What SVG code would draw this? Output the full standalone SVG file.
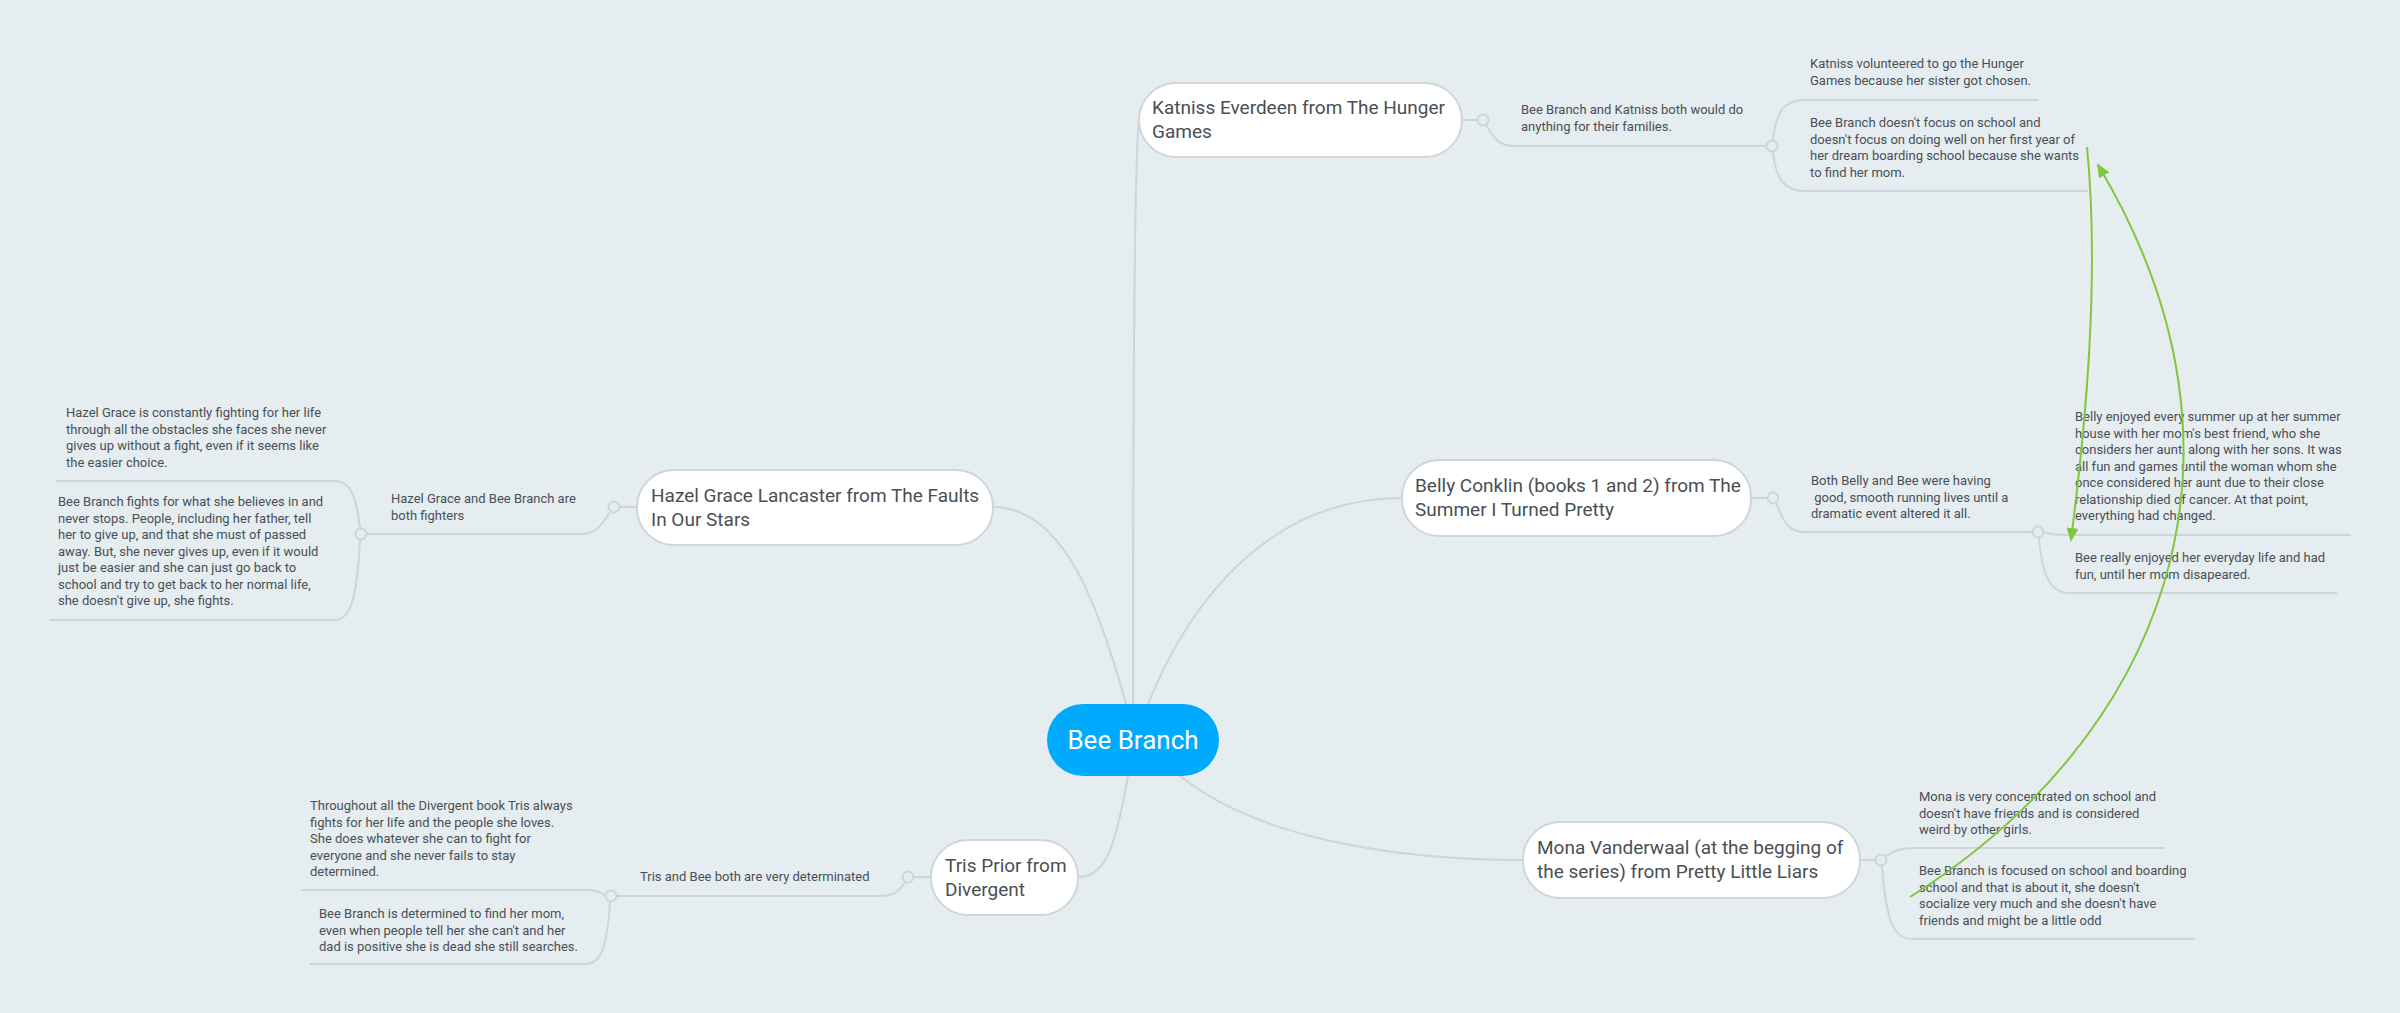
<svg xmlns="http://www.w3.org/2000/svg" width="2400" height="1013" viewBox="0 0 2400 1013">
<style>
.bg{fill:#e5edf1}
.node rect{fill:#ffffff;stroke:#cfd6db;stroke-width:2}
.nt{font-family:Roboto,"Liberation Sans",sans-serif;font-size:19px;fill:#4a4f55}
.dt{font-family:Roboto,"Liberation Sans",sans-serif;font-size:13px;fill:#4a4f55}
.root rect{fill:#00aafd}
.rt{font-family:Roboto,"Liberation Sans",sans-serif;font-size:26px;fill:#ffffff}
.conn path{fill:none;stroke:#cdd5da;stroke-width:2}
.conn circle{fill:#e5edf1;stroke:#cdd5da;stroke-width:2}
.rel path{fill:none;stroke:#82c63f;stroke-width:2}
</style>
<defs>
<marker id="ah" markerUnits="userSpaceOnUse" markerWidth="14" markerHeight="12" viewBox="0 0 14 12" refX="12" refY="6" orient="auto">
<path d="M0,0 L14,6 L0,12 z" fill="#82c63f"/>
</marker>
</defs>
<rect class="bg" x="0" y="0" width="2400" height="1013"/>

<g id="connectors" class="conn">
<!-- root to main topics -->
<path d="M1133,704 C1133,420 1134,160 1139,120"/>
<path d="M1126,704 C1100,610 1065,507 993,507"/>
<path d="M1148,704 C1190,600 1270,498 1402,498"/>
<path d="M1180,776 C1260,840 1400,860 1523,860"/>
<path d="M1128,776 C1115,850 1105,877 1078,877"/>
<!-- Katniss -->
<path d="M1462,120 L1477,120"/>
<path d="M1486,125 C1495,140 1500,146 1515,146 L1766,146"/>
<path d="M1773,140 C1776,110 1785,100 1805,100 L2039,100"/>
<path d="M1773,152 C1776,180 1785,191 1805,191 L2088,191"/>
<circle cx="1483" cy="120" r="5.5"/>
<circle cx="1772" cy="146" r="5.5"/>
<!-- Hazel -->
<path d="M637,507 L620,507"/>
<path d="M610,512 C600,528 595,534 580,534 L367,534"/>
<path d="M360,528 C356,495 350,481 335,481 L56,481"/>
<path d="M360,540 C357,600 350,620 335,620 L49,620"/>
<circle cx="614" cy="507" r="5.5"/>
<circle cx="361" cy="534" r="5.5"/>
<!-- Belly -->
<path d="M1751,498 L1767,498"/>
<path d="M1776,503 C1785,525 1790,532 1805,532 L2032,532"/>
<path d="M2044,532 C2050,534 2055,535 2065,535 L2351,535"/>
<path d="M2039,538 C2042,575 2050,593 2070,593 L2337,593"/>
<circle cx="1773" cy="498" r="5.5"/>
<circle cx="2038" cy="532" r="5.5"/>
<!-- Mona -->
<path d="M1860,860 L1875,860"/>
<path d="M1886,856 C1895,850 1902,848 1915,848 L2165,848"/>
<path d="M1882,866 C1886,920 1893,939 1912,939 L2195,939"/>
<circle cx="1881" cy="860" r="5.5"/>
<!-- Tris -->
<path d="M931,877 L914,877"/>
<path d="M905,882 C898,893 893,896 880,896 L617,896"/>
<path d="M605,895 C600,891 595,890 585,890 L301,890"/>
<path d="M610,902 C607,950 600,964 585,964 L309,964"/>
<circle cx="908" cy="877" r="5.5"/>
<circle cx="611" cy="896" r="5.5"/>
</g>

<g id="root" class="root">
<rect x="1047" y="704" width="172" height="72" rx="36"/>
<text class="rt" x="1133" y="749" text-anchor="middle">Bee Branch</text>
</g>

<g id="katniss" class="node">
<rect x="1139" y="83" width="323" height="74" rx="37"/>
<text class="nt" x="1152" y="114">Katniss Everdeen from The Hunger<tspan x="1152" y="138">Games</tspan></text>
</g>
<g id="katniss-label">
<text class="dt" x="1521" y="114">Bee Branch and Katniss both would do<tspan x="1521" y="131">anything for their families.</tspan></text>
</g>
<g id="katniss-d1">
<text class="dt" x="1810" y="68">Katniss volunteered to go the Hunger<tspan x="1810" y="85">Games because her sister got chosen.</tspan></text>
</g>
<g id="katniss-d2">
<text class="dt" x="1810" y="127">Bee Branch doesn't focus on school and<tspan x="1810" y="143.5">doesn't focus on doing well on her first year of</tspan><tspan x="1810" y="160">her dream boarding school because she wants</tspan><tspan x="1810" y="176.5">to find her mom.</tspan></text>
</g>

<g id="hazel" class="node">
<rect x="637" y="470" width="356" height="75" rx="37"/>
<text class="nt" x="651" y="502">Hazel Grace Lancaster from The Faults<tspan x="651" y="526">In Our Stars</tspan></text>
</g>
<g id="hazel-label">
<text class="dt" x="391" y="503">Hazel Grace and Bee Branch are<tspan x="391" y="519.5">both fighters</tspan></text>
</g>
<g id="hazel-d1">
<text class="dt" x="66" y="417">Hazel Grace is constantly fighting for her life<tspan x="66" y="433.5">through all the obstacles she faces she never</tspan><tspan x="66" y="450">gives up without a fight, even if it seems like</tspan><tspan x="66" y="466.5">the easier choice.</tspan></text>
</g>
<g id="hazel-d2">
<text class="dt" x="58" y="506">Bee Branch fights for what she believes in and<tspan x="58" y="522.5">never stops. People, including her father, tell</tspan><tspan x="58" y="539">her to give up, and that she must of passed</tspan><tspan x="58" y="555.5">away. But, she never gives up, even if it would</tspan><tspan x="58" y="572">just be easier and she can just go back to</tspan><tspan x="58" y="588.5">school and try to get back to her normal life,</tspan><tspan x="58" y="605">she doesn't give up, she fights.</tspan></text>
</g>

<g id="belly" class="node">
<rect x="1402" y="460" width="349" height="76" rx="37"/>
<text class="nt" x="1415" y="492">Belly Conklin (books 1 and 2) from The<tspan x="1415" y="516">Summer I Turned Pretty</tspan></text>
</g>
<g id="belly-label">
<text class="dt" x="1811" y="485" xml:space="preserve">Both Belly and Bee were having<tspan x="1811" y="501.5"> good, smooth running lives until a</tspan><tspan x="1811" y="518">dramatic event altered it all.</tspan></text>
</g>
<g id="belly-d1">
<text class="dt" x="2075" y="421">Belly enjoyed every summer up at her summer<tspan x="2075" y="437.5">house with her mom's best friend, who she</tspan><tspan x="2075" y="454">considers her aunt, along with her sons. It was</tspan><tspan x="2075" y="470.5">all fun and games until the woman whom she</tspan><tspan x="2075" y="487">once considered her aunt due to their close</tspan><tspan x="2075" y="503.5">relationship died of cancer. At that point,</tspan><tspan x="2075" y="520">everything had changed.</tspan></text>
</g>
<g id="belly-d2">
<text class="dt" x="2075" y="562">Bee really enjoyed her everyday life and had<tspan x="2075" y="578.5">fun, until her mom disapeared.</tspan></text>
</g>

<g id="mona" class="node">
<rect x="1523" y="822" width="337" height="76" rx="37"/>
<text class="nt" x="1537" y="854">Mona Vanderwaal (at the begging of<tspan x="1537" y="878">the series) from Pretty Little Liars</tspan></text>
</g>
<g id="mona-d1">
<text class="dt" x="1919" y="801">Mona is very concentrated on school and<tspan x="1919" y="817.5">doesn't have friends and is considered</tspan><tspan x="1919" y="834">weird by other girls.</tspan></text>
</g>
<g id="mona-d2">
<text class="dt" x="1919" y="875">Bee Branch is focused on school and boarding<tspan x="1919" y="891.5">school and that is about it, she doesn't</tspan><tspan x="1919" y="908">socialize very much and she doesn't have</tspan><tspan x="1919" y="924.5">friends and might be a little odd</tspan></text>
</g>

<g id="tris" class="node">
<rect x="931" y="840" width="147" height="75" rx="37"/>
<text class="nt" x="945" y="872">Tris Prior from<tspan x="945" y="896">Divergent</tspan></text>
</g>
<g id="tris-label">
<text class="dt" x="640" y="881">Tris and Bee both are very determinated</text>
</g>
<g id="tris-d1">
<text class="dt" x="310" y="810">Throughout all the Divergent book Tris always<tspan x="310" y="826.5">fights for her life and the people she loves.</tspan><tspan x="310" y="843">She does whatever she can to fight for</tspan><tspan x="310" y="859.5">everyone and she never fails to stay</tspan><tspan x="310" y="876">determined.</tspan></text>
</g>
<g id="tris-d2">
<text class="dt" x="319" y="918">Bee Branch is determined to find her mom,<tspan x="319" y="934.5">even when people tell her she can't and her</tspan><tspan x="319" y="951">dad is positive she is dead she still searches.</tspan></text>
</g>

<g id="relationships" class="rel">
<path d="M2087,147 C2100,280 2085,430 2071,540" marker-end="url(#ah)"/>
<path d="M1910,897 C2160,740 2275,460 2098,165" marker-end="url(#ah)"/>
</g>
</svg>
